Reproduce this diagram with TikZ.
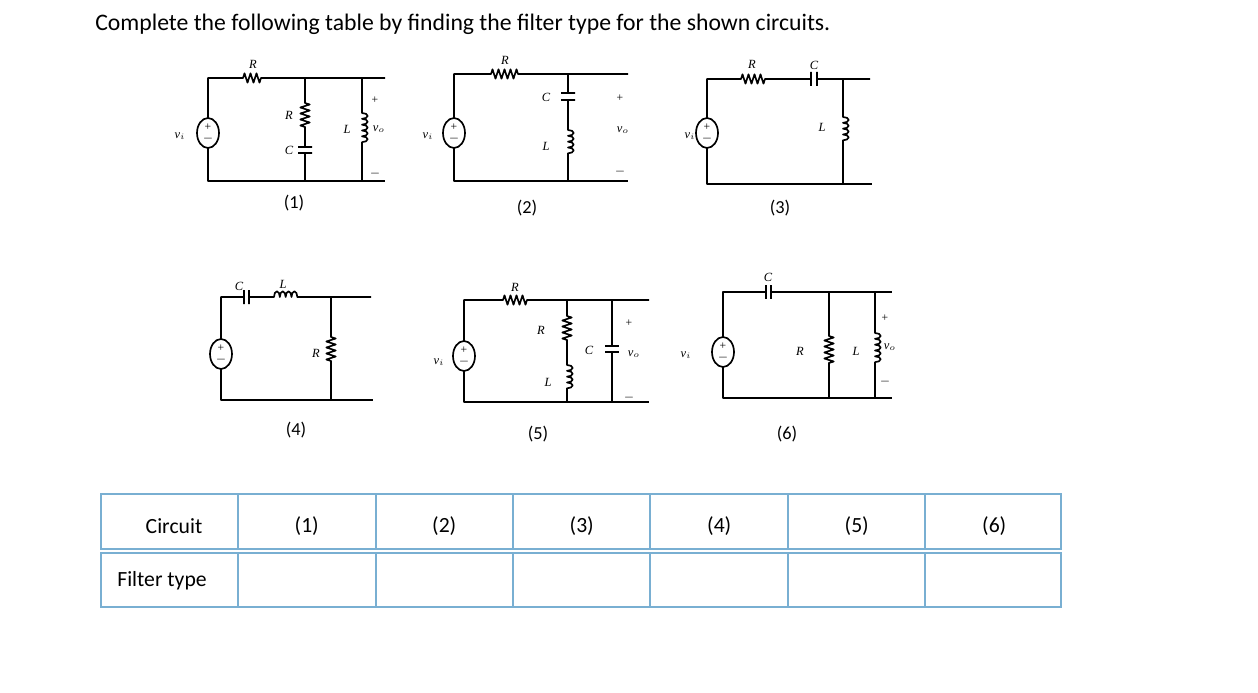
\documentclass[tikz,border=0pt]{standalone}
\usepackage{fontspec}
\setmainfont{Carlito}
\newfontfamily\lab{Liberation Serif}
\usetikzlibrary{decorations.pathmorphing}
\begin{document}
\begin{tikzpicture}[x=0.6pt,y=-0.6pt,
  w/.style={line width=1pt,line join=round},
  res/.style={decorate,decoration={zigzag,segment length=3.6pt,amplitude=2.8pt}},
  ind/.style={decorate,decoration={bumps,segment length=7pt,amplitude=3.4pt}},
  lb/.style={font=\lab\itshape\fontsize{7.5}{8}\selectfont,inner sep=0},
  pm/.style={font=\lab\fontsize{7}{8}\selectfont,inner sep=0},
  capt/.style={font=\fontsize{11}{13}\selectfont,inner sep=0},
  tb/.style={draw=blue!40!cyan!50!gray!70,line width=1pt},
  tt/.style={font=\fontsize{13}{15}\selectfont,inner sep=0}]
\useasboundingbox (0,0) rectangle (1258,693);
\node[anchor=west,inner sep=0] (title) at (95,24) {\resizebox{441pt}{!}{Complete the following table by finding the filter type for the shown circuits.}};
\newcommand{\Src}[2]{\draw[w] (#1,#2) ellipse[x radius=11,y radius=15];
 \node[pm] at (#1,#2-6) {+}; \node[pm] at (#1,#2+6) {$-$};}
% ---------- circuit 1
\Src{208}{133}
\draw[w] (208,118)--(208,78)--(243,78) decorate[res]{--(262,78)}--(385,78);
\draw[w] (208,148)--(208,181)--(385,181);
\draw[w] (305,78)--(305,103) decorate[res]{--(305,127)}--(305,147) (298,147)--(312,147) (298,153)--(312,153) (305,153)--(305,181);
\draw[w] (362,78)--(362,113) decorate[ind]{--(362,145)}--(362,181);
\node[lb] at (253,64){R}; \node[lb] at (289,115){R}; \node[lb] at (289,150){C}; \node[lb] at (347,129){L};
\node[lb] at (379,129){v$_o$}; \node[pm] at (375,100){+}; \node[pm] at (375,174){$-$}; \node[lb] at (180,136){v$_i$};
\node[capt] at (294,203){(1)};
% ---------- circuit 2
\Src{454}{133}
\draw[w] (454,118)--(454,74)--(491,74) decorate[res]{--(519,74)}--(628,74);
\draw[w] (454,148)--(454,181)--(628,181);
\draw[w] (568,74)--(568,93) (561,93)--(575,93) (561,100)--(575,100) (568,100)--(568,130) decorate[ind]{--(568,158)}--(568,181);
\node[lb] at (505,60){R}; \node[lb] at (546,97){C}; \node[lb] at (546,146){L};
\node[pm] at (620,98){+}; \node[lb] at (623,130){v$_o$}; \node[pm] at (620,172){$-$}; \node[lb] at (428,136){v$_i$};
\node[capt] at (527,208){(2)};
% ---------- circuit 3
\Src{707}{133}
\draw[w] (707,118)--(707,79)--(741,79) decorate[res]{--(767,79)}--(811,79) (811,72)--(811,86) (817,72)--(817,86) (817,79)--(870,79);
\draw[w] (707,148)--(707,184)--(872,184);
\draw[w] (843,79)--(843,117) decorate[ind]{--(843,146)}--(843,184);
\node[lb] at (752,64){R}; \node[lb] at (814,65){C}; \node[lb] at (822,127){L}; \node[lb] at (690,136){v$_i$};
\node[capt] at (780,208){(3)};
% ---------- circuit 4
\Src{221}{354}
\draw[w] (221,339)--(221,297)--(244,297) (244,290)--(244,304) (249,290)--(249,304) (249,297)--(274,297) decorate[ind]{--(302,297)}--(371,297);
\draw[w] (221,369)--(221,400)--(373,400);
\draw[w] (331,297)--(331,337) decorate[res]{--(331,361)}--(331,400);
\node[lb] at (239,286){C}; \node[lb] at (283,284){L}; \node[lb] at (316,353){R};
\node[capt] at (296,430){(4)};
% ---------- circuit 5
\Src{464}{356}
\draw[w] (464,341)--(464,300)--(503,300) decorate[res]{--(529,300)}--(649,300);
\draw[w] (464,371)--(464,402)--(649,402);
\draw[w] (567,300)--(567,316) decorate[res]{--(567,340)}--(567,365) decorate[ind]{--(567,390)}--(567,402);
\draw[w] (612,300)--(612,346) (605,346)--(619,346) (605,352)--(619,352) (612,352)--(612,402);
\node[lb] at (515,287){R}; \node[lb] at (541,330){R}; \node[lb] at (548,382){L}; \node[lb] at (589,350){C};
\node[pm] at (629,323){+}; \node[lb] at (634,354){v$_o$}; \node[pm] at (629,398){$-$}; \node[lb] at (439,362){v$_i$};
\node[capt] at (538,434){(5)};
% ---------- circuit 6
\Src{723}{352}
\draw[w] (723,337)--(723,292)--(766,292) (766,285)--(766,299) (771,285)--(771,299) (771,292)--(892,292);
\draw[w] (723,367)--(723,398)--(892,398);
\draw[w] (829,292)--(829,336) decorate[res]{--(829,363)}--(829,398);
\draw[w] (875,292)--(875,333) decorate[ind]{--(875,363)}--(875,398);
\node[lb] at (768,277){C}; \node[lb] at (800,351){R}; \node[lb] at (856,351){L};
\node[pm] at (885,318){+}; \node[lb] at (890,347){v$_o$}; \node[pm] at (885,382){$-$}; \node[lb] at (686,355){v$_i$};
\node[capt] at (787,434){(6)};
% ---------- table
\foreach \a/\b in {101/238,238/376,376/513,513/650,650/788,788/925,925/1061}{
  \draw[tb] (\a,494) rectangle (\b,549);
  \draw[tb] (\a,553) rectangle (\b,607);}
\node[tt] (h0) at (174,526){Circuit};
\foreach \t [count=\i] in {(1),(2),(3),(4),(5),(6)}{
  \node[tt] (h\i) at ({238+137.5*(\i-0.5)},526){\t};}
\node[tt] (f0) at (162,581){Filter type};
\end{tikzpicture}
\end{document}
